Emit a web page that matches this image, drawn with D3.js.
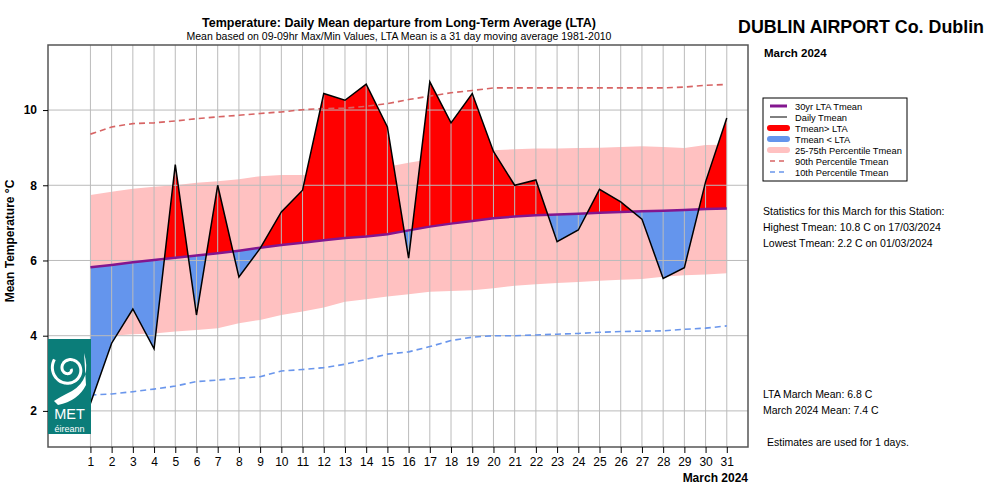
<!DOCTYPE html>
<html>
<head>
<meta charset="utf-8">
<script src="https://cdn.jsdelivr.net/npm/d3@7"></script>
<style>
  body { margin: 0; background: #fff; }
  svg { display: block; font-family: "Liberation Sans", Arial, sans-serif; }
</style>
</head>
<body>
<div id="chart"></div>
<script>
// ---- data (March 2024, Dublin Airport) ----
const days = [1,2,3,4,5,6,7,8,9,10,11,12,13,14,15,16,17,18,19,20,21,22,23,24,25,26,27,28,29,30,31]
const tmean = [2.2,3.8,4.71,3.65,8.55,4.55,8.0,5.56,6.32,7.29,7.87,10.44,10.26,10.69,9.55,6.06,10.75,9.66,10.44,8.9,8.0,8.14,6.5,6.81,7.89,7.56,7.1,5.52,5.81,8.09,9.79]
const lta = [5.82,5.88,5.95,6.01,6.07,6.13,6.19,6.26,6.34,6.41,6.47,6.54,6.60,6.64,6.70,6.80,6.90,6.98,7.05,7.12,7.17,7.20,7.22,7.24,7.27,7.29,7.31,7.32,7.34,7.37,7.38]
const p90 = [9.36,9.55,9.64,9.66,9.71,9.77,9.82,9.86,9.91,9.95,10.01,10.04,10.05,10.1,10.17,10.28,10.37,10.46,10.52,10.59,10.59,10.59,10.59,10.59,10.59,10.59,10.59,10.59,10.61,10.66,10.68]
const p75 = [7.74,7.83,7.91,7.96,8.0,8.07,8.11,8.16,8.24,8.27,8.27,8.29,8.33,8.4,8.49,8.6,8.69,8.8,8.87,8.93,8.96,8.98,8.98,8.99,9.0,9.02,9.04,9.02,8.99,9.07,9.08]
const p25 = [3.97,4.0,4.04,4.06,4.11,4.15,4.2,4.33,4.42,4.55,4.64,4.75,4.9,4.97,5.04,5.1,5.17,5.19,5.21,5.26,5.33,5.37,5.4,5.43,5.46,5.49,5.51,5.57,5.61,5.63,5.66]
const p10 = [2.42,2.45,2.51,2.58,2.66,2.78,2.82,2.87,2.91,3.06,3.1,3.15,3.24,3.37,3.51,3.57,3.71,3.87,3.96,4.0,4.0,4.02,4.04,4.06,4.09,4.11,4.12,4.13,4.17,4.2,4.26]
const yTicks = [2,4,6,8,10]

const statsLines = ['Statistics for this March for this Station:', 'Highest Tmean: 10.8 C on 17/03/2024', 'Lowest Tmean: 2.2 C on 01/03/2024']
const meanLines = ['LTA March Mean: 6.8 C', 'March 2024 Mean: 7.4 C']

const RED = '#ff0000', BLUE = '#6495ed', PINK = '#ffc1c1', PURPLE = '#83168f'
const DRED = '#d76464', DBLUE = '#6a96ec'

const svg = d3.select('#chart').append('svg').attr('width', 994).attr('height', 490)
svg.append('rect').attr('width', 994).attr('height', 490).attr('fill', '#fff')

const x = d3.scaleLinear().domain([-1, 32]).range([48, 748])
const y = d3.scaleLinear().domain([1.04, 11.73]).range([447, 45])

const plot = svg.append('g')

// percentile band 25-75
plot.append('path')
  .datum(days.map((d, i) => i))
  .attr('fill', PINK)
  .attr('d', d3.area().x(i => x(days[i])).y0(i => y(p25[i])).y1(i => y(p75[i])))

// above / below LTA fills, split at the crossings
const runs = []
let cur = null
for (let i = 0; i < days.length - 1; i++) {
  const d0 = tmean[i] - lta[i], d1 = tmean[i + 1] - lta[i + 1]
  if (!cur) cur = { s: d0 !== 0 ? Math.sign(d0) : Math.sign(d1), top: [[days[i], tmean[i]]], bot: [[days[i], lta[i]]] }
  if (d0 * d1 < 0) {
    const f = d0 / (d0 - d1)
    const xc = days[i] + f * (days[i + 1] - days[i])
    const yc = tmean[i] + f * (tmean[i + 1] - tmean[i])
    cur.top.push([xc, yc]); cur.bot.push([xc, yc])
    runs.push(cur)
    cur = { s: Math.sign(d1), top: [[xc, yc]], bot: [[xc, yc]] }
  }
  cur.top.push([days[i + 1], tmean[i + 1]])
  cur.bot.push([days[i + 1], lta[i + 1]])
}
runs.push(cur)

plot.selectAll('path.run')
  .data(runs)
  .join('path')
  .attr('class', 'run')
  .attr('fill', r => r.s > 0 ? RED : BLUE)
  .attr('d', r => 'M' + r.top.concat(r.bot.slice().reverse()).map(p => x(p[0]) + ',' + y(p[1])).join('L') + 'Z')

// grid
plot.selectAll('line.hg')
  .data(yTicks)
  .join('line')
  .attr('class', 'hg')
  .attr('x1', 48).attr('x2', 748)
  .attr('y1', d => y(d)).attr('y2', d => y(d))
  .attr('stroke', '#bbbbbb').attr('stroke-width', 1)

plot.selectAll('line.vg')
  .data(days)
  .join('line')
  .attr('class', 'vg')
  .attr('x1', d => x(d)).attr('x2', d => x(d))
  .attr('y1', 45).attr('y2', 447)
  .attr('stroke', '#bbbbbb').attr('stroke-width', 1)

const line = arr => d3.line().x((d, i) => x(days[i])).y((d, i) => y(arr[i]))

plot.append('path').datum(p90)
  .attr('fill', 'none').attr('stroke', DRED).attr('stroke-width', 1.6)
  .attr('stroke-dasharray', '6,4')
  .attr('d', line(p90))

plot.append('path').datum(p10)
  .attr('fill', 'none').attr('stroke', DBLUE).attr('stroke-width', 1.6)
  .attr('stroke-dasharray', '6,4')
  .attr('d', line(p10))

plot.append('path').datum(lta)
  .attr('fill', 'none').attr('stroke', PURPLE).attr('stroke-width', 2.5)
  .attr('d', line(lta))

plot.append('path').datum(tmean)
  .attr('fill', 'none').attr('stroke', '#000').attr('stroke-width', 1.5)
  .attr('stroke-linejoin', 'miter')
  .attr('d', line(tmean))

// frame
svg.append('rect')
  .attr('x', 48).attr('y', 45).attr('width', 700).attr('height', 402)
  .attr('fill', 'none').attr('stroke', '#555').attr('stroke-width', 1.5)

// axes
const xAxis = d3.axisBottom(x).tickValues(days).tickSize(6).tickPadding(4).tickFormat(d3.format('d'))
const gx = svg.append('g').attr('transform', 'translate(0,447)').call(xAxis)
gx.select('.domain').remove()
gx.selectAll('text').attr('font-size', 12).attr('fill', '#000').attr('font-family', '"Liberation Sans Narrow", "Liberation Sans", Arial, sans-serif')
gx.selectAll('line').attr('stroke', '#000')

const yAxis = d3.axisLeft(y).tickValues(yTicks).tickSize(5).tickPadding(6)
const gy = svg.append('g').attr('transform', 'translate(48,0)').call(yAxis)
gy.select('.domain').remove()
gy.selectAll('text').attr('font-size', 12).attr('font-weight', 'bold').attr('fill', '#000')
gy.selectAll('line').attr('stroke', '#000')

svg.append('text')
  .attr('transform', 'translate(14,241) rotate(-90)')
  .attr('text-anchor', 'middle')
  .attr('font-size', 12).attr('font-weight', 'bold')
  .text('Mean Temperature °C')

svg.append('text')
  .attr('x', 748).attr('y', 482)
  .attr('text-anchor', 'end')
  .attr('font-size', 12).attr('font-weight', 'bold')
  .text('March 2024')

// titles
svg.append('text')
  .attr('x', 399).attr('y', 27)
  .attr('text-anchor', 'middle')
  .attr('font-size', 12.5).attr('font-weight', 'bold')
  .text('Temperature: Daily Mean departure from Long-Term Average (LTA)')

svg.append('text')
  .attr('x', 399).attr('y', 40)
  .attr('text-anchor', 'middle')
  .attr('font-size', 10.5)
  .text('Mean based on 09-09hr Max/Min Values, LTA Mean is a 31 day moving average 1981-2010')

svg.append('text')
  .attr('x', 738).attr('y', 33)
  .attr('font-size', 18.5).attr('font-weight', 'bold')
  .attr('textLength', 246).attr('lengthAdjust', 'spacingAndGlyphs')
  .text('DUBLIN AIRPORT Co. Dublin')

svg.append('text')
  .attr('x', 764).attr('y', 57)
  .attr('font-size', 11.5).attr('font-weight', 'bold')
  .text('March 2024')

// legend
const legendItems = [
  { label: '30yr LTA Tmean', color: PURPLE, w: 3 },
  { label: 'Daily Tmean', color: '#000', w: 1 },
  { label: 'Tmean> LTA', color: RED, w: 6 },
  { label: 'Tmean < LTA', color: BLUE, w: 6 },
  { label: '25-75th Percentile Tmean', color: PINK, w: 6 },
  { label: '90th Percentile Tmean', color: DRED, w: 1.5, dash: '5,4' },
  { label: '10th Percentile Tmean', color: DBLUE, w: 1.5, dash: '5,4' }
]
const lg = svg.append('g')
lg.append('rect').attr('x', 763).attr('y', 98).attr('width', 144).attr('height', 83)
  .attr('fill', '#fff').attr('stroke', '#000').attr('stroke-width', 1)
const li = lg.selectAll('g.li').data(legendItems).join('g')
  .attr('class', 'li')
  .attr('transform', (d, i) => `translate(0,${106 + i * 11})`)
li.append('line')
  .attr('x1', 770).attr('x2', 787)
  .attr('stroke', d => d.color).attr('stroke-width', d => d.w)
  .attr('stroke-linecap', d => d.w > 4 ? 'round' : 'butt')
  .attr('stroke-dasharray', d => d.dash || null)
li.append('text')
  .attr('x', 795).attr('y', 3.5)
  .attr('font-size', 9.3)
  .text(d => d.label)

// statistics
svg.selectAll('text.stat').data(statsLines).join('text')
  .attr('class', 'stat')
  .attr('x', 763).attr('y', (d, i) => 215 + i * 16)
  .attr('font-size', 10.5)
  .text(d => d)

svg.selectAll('text.mean').data(meanLines).join('text')
  .attr('class', 'mean')
  .attr('x', 763).attr('y', (d, i) => 398 + i * 16)
  .attr('font-size', 10.5)
  .text(d => d)

svg.append('text')
  .attr('x', 767).attr('y', 446)
  .attr('font-size', 10.5)
  .text('Estimates are used for 1 days.')

// Met Eireann logo
const logo = svg.append('g').attr('transform', 'translate(48,339)')
logo.append('rect').attr('width', 43).attr('height', 95).attr('fill', '#0b7d79')
const spiral = []
for (let t = 0; t <= 3.2 * Math.PI; t += 0.1) {
  const r = 2 + t * 1.55
  spiral.push([21 + r * Math.cos(t), 30 + r * Math.sin(t)])
}
logo.append('path')
  .attr('d', d3.line().curve(d3.curveBasis)(spiral))
  .attr('fill', 'none').attr('stroke', '#fff').attr('stroke-width', 3)
logo.append('path')
  .attr('d', 'M36,14 Q44,40 24,52 Q12,58 6,62 L10,66 Q30,62 38,46')
  .attr('fill', '#fff')
logo.append('text').attr('x', 21.5).attr('y', 80)
  .attr('text-anchor', 'middle').attr('fill', '#fff')
  .attr('font-size', 14.5).text('MET')
logo.append('text').attr('x', 21.5).attr('y', 93)
  .attr('text-anchor', 'middle').attr('fill', '#fff')
  .attr('font-size', 9).text('éireann')
</script>
</body>
</html>
